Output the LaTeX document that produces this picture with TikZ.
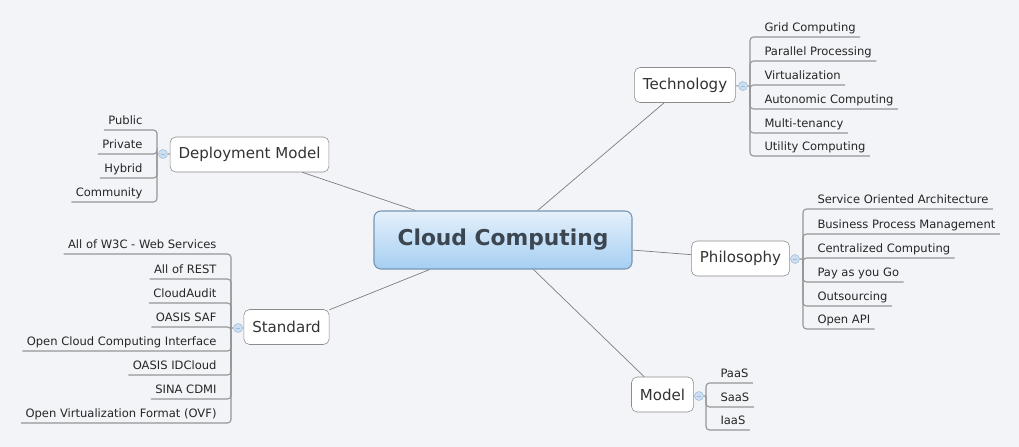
\documentclass[tikz,border=0pt]{standalone}
\usepackage{fontspec}
\setmainfont{DejaVu Sans}
\usetikzlibrary{positioning}

\definecolor{bgcol}{RGB}{243,244,248}
\definecolor{rootborder}{RGB}{120,150,180}
\definecolor{roottop}{RGB}{228,240,251}
\definecolor{rootbot}{RGB}{166,207,242}
\definecolor{roottext}{RGB}{59,70,81}
\definecolor{boxborder}{RGB}{140,140,140}
\definecolor{linegray}{RGB}{125,125,125}
\definecolor{twiggray}{RGB}{150,150,150}
\definecolor{foldfill}{RGB}{205,222,240}
\definecolor{foldline}{RGB}{160,190,220}

\begin{document}
\begin{tikzpicture}[x=0.025cm,y=-0.025cm,
    root/.style={draw=rootborder,line width=0.8pt,rounded corners=5pt,
                 top color=roottop,bottom color=rootbot,
                 minimum width=6.45cm,minimum height=1.45cm,
                 font=\fontsize{15.5}{18}\selectfont\bfseries,text=roottext},
    topic/.style={draw=boxborder,fill=white,rounded corners=4pt,
                  minimum height=0.875cm,inner xsep=6pt,
                  font=\fontsize{10.7}{13}\selectfont,text=black!80},
    subR/.style={anchor=south west,inner xsep=3pt,inner ysep=1.5pt,
                 text depth=0.22em,font=\fontsize{8.2}{10}\selectfont,text=black!85},
    subL/.style={subR,anchor=south east},
    fold/.style={circle,draw=foldline,fill=foldfill,inner sep=0pt,
                 minimum size=0.225cm,
                 path picture={\draw[foldline]
                   ([xshift=-1.6pt]path picture bounding box.center) --
                   ([xshift=1.6pt]path picture bounding box.center);}},
    branch/.style={draw=linegray,line width=0.5pt},
    twig/.style={draw=twiggray,line width=0.8pt,rounded corners=2.5pt},
]

% background and page size
\path[use as bounding box,fill=bgcol] (0,0) rectangle (1019,447);

% central topic and main branches
\node[root]  (cloud)  at (503,240)     {Cloud Computing};
\node[topic] (tech)   at (685,85)      {Technology};
\node[topic] (deploy) at (249.5,154.5) {Deployment Model};
\node[topic] (std)    at (286.5,327)   {Standard};
\node[topic] (philo)  at (740.5,258.5) {Philosophy};
\node[topic] (model)  at (662.5,394.5) {Model};

\draw[branch] (cloud) -- (tech);
\draw[branch] (cloud) -- (deploy);
\draw[branch] (cloud) -- (std);
\draw[branch] (cloud) -- (philo);
\draw[branch] (cloud) -- (model);

% Technology
\node[fold] (techfold) at (743,86) {};
\coordinate (techjoint) at (750,86);
\draw[twig] (tech) -- (techfold) -- (techjoint);
\node[subR] (grid)  at (760,37)  {Grid Computing};
\node[subR] (para)  at (760,61)  {Parallel Processing};
\node[subR] (virt)  at (760,85)  {Virtualization};
\node[subR] (auto)  at (760,109) {Autonomic Computing};
\node[subR] (multi) at (760,133) {Multi-tenancy};
\node[subR] (util)  at (760,156) {Utility Computing};
\draw[twig] (techjoint) |- (grid.south east);
\draw[twig] (techjoint) |- (para.south east);
\draw[twig] (techjoint) |- (virt.south east);
\draw[twig] (techjoint) |- (auto.south east);
\draw[twig] (techjoint) |- (multi.south east);
\draw[twig] (techjoint) |- (util.south east);

% Deployment Model
\node[fold] (depfold) at (163,154) {};
\coordinate (depjoint) at (157,154);
\draw[twig] (deploy) -- (depfold) -- (depjoint);
\node[subL] (public)  at (147,130) {Public};
\node[subL] (private) at (147,154) {Private};
\node[subL] (hybrid)  at (147,178) {Hybrid};
\node[subL] (commu)   at (147,202) {Community};
\draw[twig] (depjoint) |- (public.south west);
\draw[twig] (depjoint) |- (private.south west);
\draw[twig] (depjoint) |- (hybrid.south west);
\draw[twig] (depjoint) |- (commu.south west);

% Standard
\node[fold] (stdfold) at (238,328) {};
\coordinate (stdjoint) at (231,328);
\draw[twig] (std) -- (stdfold) -- (stdjoint);
\node[subL] (wthree) at (221,254) {All of W3C - Web Services};
\node[subL] (rest)   at (221,279) {All of REST};
\node[subL] (audit)  at (221,303) {CloudAudit};
\node[subL] (saf)    at (221,327) {OASIS SAF};
\node[subL] (occi)   at (221,351) {Open Cloud Computing Interface};
\node[subL] (idc)    at (221,375) {OASIS IDCloud};
\node[subL] (cdmi)   at (221,399) {SINA CDMI};
\node[subL] (ovf)    at (221,423) {Open Virtualization Format (OVF)};
\draw[twig] (stdjoint) |- (wthree.south west);
\draw[twig] (stdjoint) |- (rest.south west);
\draw[twig] (stdjoint) |- (audit.south west);
\draw[twig] (stdjoint) |- (saf.south west);
\draw[twig] (stdjoint) |- (occi.south west);
\draw[twig] (stdjoint) |- (idc.south west);
\draw[twig] (stdjoint) |- (cdmi.south west);
\draw[twig] (stdjoint) |- (ovf.south west);

% Philosophy
\node[fold] (philfold) at (795,259) {};
\coordinate (philjoint) at (803,259);
\draw[twig] (philo) -- (philfold) -- (philjoint);
\node[subR] (soa)  at (813,209) {Service Oriented Architecture};
\node[subR] (bpm)  at (813,234) {Business Process Management};
\node[subR] (cent) at (813,258) {Centralized Computing};
\node[subR] (payg) at (813,282) {Pay as you Go};
\node[subR] (outs) at (813,306) {Outsourcing};
\node[subR] (oapi) at (813,329) {Open API};
\draw[twig] (philjoint) |- (soa.south east);
\draw[twig] (philjoint) |- (bpm.south east);
\draw[twig] (philjoint) |- (cent.south east);
\draw[twig] (philjoint) |- (payg.south east);
\draw[twig] (philjoint) |- (outs.south east);
\draw[twig] (philjoint) |- (oapi.south east);

% Model
\node[fold] (modfold) at (699,396) {};
\coordinate (modjoint) at (706,396);
\draw[twig] (model) -- (modfold) -- (modjoint);
\node[subR] (paas) at (716,383) {PaaS};
\node[subR] (saas) at (716,407) {SaaS};
\node[subR] (iaas) at (716,430) {IaaS};
\draw[twig] (modjoint) |- (paas.south east);
\draw[twig] (modjoint) |- (saas.south east);
\draw[twig] (modjoint) |- (iaas.south east);

\end{tikzpicture}
\end{document}
